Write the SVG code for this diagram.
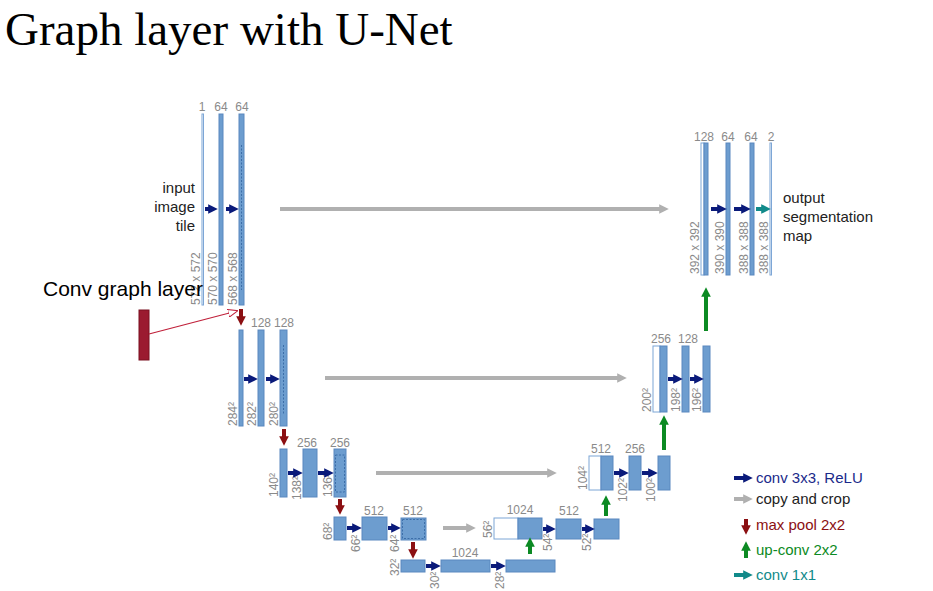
<svg xmlns="http://www.w3.org/2000/svg" width="933" height="591" viewBox="0 0 933 591">
<defs>
<marker id="mN" markerWidth="2.4" markerHeight="2.4" refX="1.2" refY="1.2" orient="auto" markerUnits="strokeWidth"><path d="M0,0L2.4,1.2L0,2.4z" fill="#0a1a7a"/></marker>
<marker id="mG" markerWidth="2.4" markerHeight="2.4" refX="1.2" refY="1.2" orient="auto" markerUnits="strokeWidth"><path d="M0,0L2.4,1.2L0,2.4z" fill="#b0b0b0"/></marker>
<marker id="mR" markerWidth="2.4" markerHeight="2.4" refX="1.2" refY="1.2" orient="auto" markerUnits="strokeWidth"><path d="M0,0L2.4,1.2L0,2.4z" fill="#8b0f12"/></marker>
<marker id="mU" markerWidth="2.4" markerHeight="2.4" refX="1.2" refY="1.2" orient="auto" markerUnits="strokeWidth"><path d="M0,0L2.4,1.2L0,2.4z" fill="#0c8a23"/></marker>
<marker id="mT" markerWidth="2.4" markerHeight="2.4" refX="1.2" refY="1.2" orient="auto" markerUnits="strokeWidth"><path d="M0,0L2.4,1.2L0,2.4z" fill="#118a8a"/></marker>
<marker id="mO" markerWidth="10" markerHeight="8" refX="9" refY="4" orient="auto" markerUnits="userSpaceOnUse"><path d="M0,0L10,4L0,8z" fill="#fff" stroke="#c0203a"/></marker>
</defs>
<style>
.b{fill:#6d9dcf;stroke:#5a88bf;stroke-width:1}
.w{fill:#fff;stroke:#7da6d6;stroke-width:1}
.d{fill:none;stroke:#3d6ea8;stroke-width:1;stroke-dasharray:2,1.5}
.n{font-family:"Liberation Sans",Arial,sans-serif;font-size:12px;fill:#8a8a8a;text-anchor:middle}
.r{font-family:"Liberation Sans",Arial,sans-serif;font-size:12px;fill:#8a8a8a}
.t{font-family:"Liberation Sans",Arial,sans-serif;font-size:15px;fill:#222}
.c{stroke:#0a1a7a;stroke-width:4;marker-end:url(#mN)}
.g{stroke:#b0b0b0;stroke-width:4;marker-end:url(#mG)}
.p{stroke:#8b0f12;stroke-width:4;marker-end:url(#mR)}
.u{stroke:#0c8a23;stroke-width:4;marker-end:url(#mU)}
.o{stroke:#118a8a;stroke-width:4;marker-end:url(#mT)}
</style>
<rect width="933" height="591" fill="#fff"/>
<text x="5" y="45" font-family="Liberation Serif,serif" font-size="47" fill="#000">Graph layer with U-Net</text>

<g id="level1-down">
<rect class="w" x="202" y="114" width="1.5" height="191"/>
<rect class="b" x="219" y="114" width="4" height="191"/>
<rect class="b" x="239" y="114" width="5" height="191"/>
<line class="d" x1="241.5" y1="145" x2="241.5" y2="290"/>
<text class="n" x="202" y="111">1</text><text class="n" x="221" y="111">64</text><text class="n" x="242" y="111">64</text>
<text class="r" transform="translate(200,305) rotate(-90)">572 x 572</text>
<text class="r" transform="translate(217,305) rotate(-90)">570 x 570</text>
<text class="r" transform="translate(237,305) rotate(-90)">568 x 568</text>
<text class="t" x="195" y="193" text-anchor="end">input</text>
<text class="t" x="195" y="212" text-anchor="end">image</text>
<text class="t" x="195" y="231" text-anchor="end">tile</text>
</g>

<g id="conv-graph-layer">
<rect x="139" y="310" width="10" height="50" fill="#9b1b30" stroke="#7a1020"/>
<text x="43" y="296" font-family="Liberation Sans,Arial,sans-serif" font-size="21" fill="#000">Conv graph layer</text>
</g>

<g id="level2-down">
<rect class="b" x="239" y="330" width="4" height="96"/>
<rect class="b" x="258" y="330" width="6" height="96"/>
<rect class="b" x="280" y="330" width="7" height="96"/>
<line class="d" x1="283.5" y1="345" x2="283.5" y2="415"/>
<text class="n" x="261" y="327">128</text><text class="n" x="284" y="327">128</text>
<text class="r" transform="translate(237,426) rotate(-90)">284²</text>
<text class="r" transform="translate(256,426) rotate(-90)">282²</text>
<text class="r" transform="translate(278,426) rotate(-90)">280²</text>
</g>

<g id="level3-down">
<rect class="b" x="280" y="449" width="7" height="48"/>
<rect class="b" x="303" y="449" width="14" height="48"/>
<rect class="b" x="334" y="449" width="12" height="48"/>
<rect class="d" x="335.5" y="455" width="9" height="37"/>
<text class="n" x="307" y="447">256</text><text class="n" x="340" y="447">256</text>
<text class="r" transform="translate(278,497) rotate(-90)">140²</text>
<text class="r" transform="translate(301,500) rotate(-90)">138²</text>
<text class="r" transform="translate(332,497) rotate(-90)">136²</text>
</g>

<g id="level4-down">
<rect class="b" x="334" y="517" width="12" height="23"/>
<rect class="b" x="362" y="517" width="25" height="23"/>
<rect class="b" x="401" y="518" width="25" height="22"/>
<rect class="d" x="402.5" y="519.5" width="22" height="19"/>
<text class="n" x="374" y="515">512</text><text class="n" x="413" y="515">512</text>
<text class="r" transform="translate(332,540) rotate(-90)">68²</text>
<text class="r" transform="translate(360,552) rotate(-90)">66²</text>
<text class="r" transform="translate(399,552) rotate(-90)">64²</text>
</g>

<g id="level5">
<rect class="b" x="401" y="560" width="24" height="12"/>
<rect class="b" x="441" y="560" width="49" height="12"/>
<rect class="b" x="506" y="560" width="49" height="12"/>
<text class="n" x="465" y="557">1024</text>
<text class="r" transform="translate(399,576) rotate(-90)">32²</text>
<text class="r" transform="translate(439,589) rotate(-90)">30²</text>
<text class="r" transform="translate(504,589) rotate(-90)">28²</text>
</g>

<g id="level4-up">
<rect class="w" x="494" y="518" width="24" height="21"/>
<rect class="b" x="518" y="518" width="24" height="21"/>
<rect class="b" x="556" y="519" width="25" height="20"/>
<rect class="b" x="594" y="519" width="25" height="20"/>
<text class="n" x="520" y="514">1024</text><text class="n" x="569" y="515">512</text>
<text class="r" transform="translate(492,538) rotate(-90)">56²</text>
<text class="r" transform="translate(552,551) rotate(-90)">54²</text>
<text class="r" transform="translate(591,551) rotate(-90)">52²</text>
</g>

<g id="level3-up">
<rect class="w" x="589" y="456" width="12" height="34"/>
<rect class="b" x="601" y="456" width="12" height="34"/>
<rect class="b" x="629" y="456" width="12" height="34"/>
<rect class="b" x="658" y="456" width="12" height="34"/>
<text class="n" x="601" y="453">512</text><text class="n" x="635" y="453">256</text>
<text class="r" transform="translate(587,490) rotate(-90)">104²</text>
<text class="r" transform="translate(627,502) rotate(-90)">102²</text>
<text class="r" transform="translate(655,502) rotate(-90)">100²</text>
</g>

<g id="level2-up">
<rect class="w" x="653" y="346" width="7" height="66"/>
<rect class="b" x="660" y="346" width="7" height="66"/>
<rect class="b" x="682" y="346" width="7" height="66"/>
<rect class="b" x="703" y="346" width="7" height="66"/>
<text class="n" x="661" y="343">256</text><text class="n" x="688" y="343">128</text>
<text class="r" transform="translate(651,412) rotate(-90)">200²</text>
<text class="r" transform="translate(680,412) rotate(-90)">198²</text>
<text class="r" transform="translate(701,412) rotate(-90)">196²</text>
</g>

<g id="level1-up">
<rect class="w" x="701" y="143" width="3" height="132"/>
<rect class="b" x="704" y="143" width="4" height="132"/>
<rect class="b" x="726" y="143" width="4" height="132"/>
<rect class="b" x="750" y="143" width="4" height="132"/>
<rect class="w" x="770" y="143" width="1.5" height="132"/>
<text class="n" x="704" y="141">128</text><text class="n" x="728" y="141">64</text><text class="n" x="751" y="141">64</text><text class="n" x="771" y="141">2</text>
<text class="r" transform="translate(699,274) rotate(-90)">392 x 392</text>
<text class="r" transform="translate(724,274) rotate(-90)">390 x 390</text>
<text class="r" transform="translate(748,274) rotate(-90)">388 x 388</text>
<text class="r" transform="translate(768,274) rotate(-90)">388 x 388</text>
<text class="t" x="783" y="203">output</text>
<text class="t" x="783" y="222">segmentation</text>
<text class="t" x="783" y="241">map</text>
</g>

<g id="connectors">
<line x1="149" y1="334" x2="237" y2="311" stroke="#c0203a" stroke-width="1.2" marker-end="url(#mO)"/>
<line class="c" x1="205" y1="209" x2="213" y2="209"/><line class="c" x1="226" y1="209" x2="234" y2="209"/>
<line class="g" x1="280" y1="209" x2="664" y2="209"/>
<line class="p" x1="241" y1="309" x2="241" y2="321"/>
<line class="c" x1="244" y1="379" x2="253" y2="379"/><line class="c" x1="266" y1="379" x2="275" y2="379"/>
<line class="g" x1="325" y1="378" x2="622" y2="378"/>
<line class="p" x1="284" y1="429" x2="284" y2="441"/>
<line class="c" x1="288" y1="473" x2="298" y2="473"/><line class="c" x1="318" y1="473" x2="329" y2="473"/>
<line class="g" x1="376" y1="473" x2="552" y2="473"/>
<line class="p" x1="340" y1="499" x2="340" y2="510"/>
<line class="c" x1="347" y1="528" x2="357" y2="528"/><line class="c" x1="388" y1="528" x2="396" y2="528"/>
<line class="g" x1="443" y1="528" x2="471" y2="528"/>
<line class="p" x1="413" y1="542" x2="413" y2="554"/>
<line class="c" x1="426" y1="566" x2="436" y2="566"/><line class="c" x1="491" y1="566" x2="501" y2="566"/>
<line class="u" x1="530" y1="554" x2="530" y2="542"/>
<line class="c" x1="543" y1="529" x2="551" y2="529"/><line class="c" x1="582" y1="529" x2="590" y2="529"/>
<line class="u" x1="606" y1="516" x2="606" y2="500"/>
<line class="c" x1="614" y1="473" x2="624" y2="473"/><line class="c" x1="642" y1="473" x2="653" y2="473"/>
<line class="u" x1="664" y1="450" x2="664" y2="420"/>
<line class="c" x1="668" y1="379" x2="678" y2="379"/><line class="c" x1="690" y1="379" x2="699" y2="379"/>
<line class="u" x1="706" y1="331" x2="706" y2="292"/>
<line class="c" x1="711" y1="209" x2="722" y2="209"/><line class="c" x1="734" y1="209" x2="746" y2="209"/>
<line class="o" x1="756" y1="209" x2="766" y2="209"/>
</g>

<g id="legend" font-family="Liberation Sans,Arial,sans-serif" font-size="15">
<line class="c" x1="734" y1="478" x2="748" y2="478"/><text x="756" y="483" fill="#1a2a8a">conv 3x3, ReLU</text>
<line class="g" x1="734" y1="499" x2="748" y2="499"/><text x="756" y="504" fill="#222">copy and crop</text>
<line class="p" x1="746" y1="519" x2="746" y2="530"/><text x="756" y="530" fill="#8b0f12">max pool 2x2</text>
<line class="u" x1="746" y1="558" x2="746" y2="546"/><text x="756" y="555" fill="#0c8a23">up-conv 2x2</text>
<line class="o" x1="734" y1="575" x2="748" y2="575"/><text x="756" y="580" fill="#118a8a">conv 1x1</text>
</g>
</svg>
